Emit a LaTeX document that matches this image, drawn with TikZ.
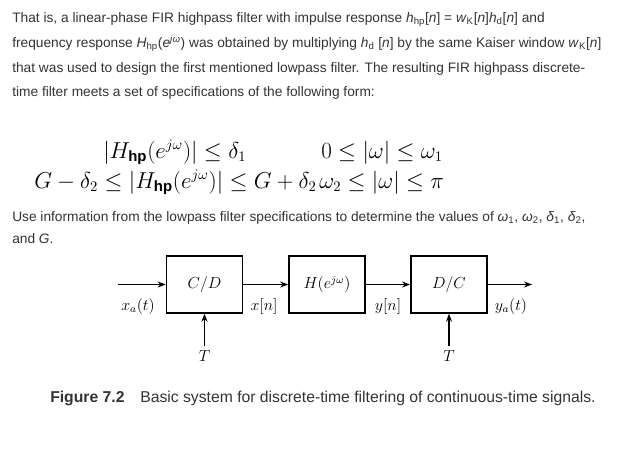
\documentclass[tikz,border=0pt]{standalone}
\usepackage{fontspec}
\usepackage{amsmath}
\setmainfont{Liberation Sans}
\usetikzlibrary{arrows.meta}
\definecolor{txt}{HTML}{333333}
\tikzset{
 para/.style={anchor=base west,inner sep=0,text=txt,font=\fontsize{10.3}{12}\selectfont},
 blk/.style={draw,line width=1.3pt,minimum width=57pt,minimum height=42.5pt,inner sep=0},
 sig/.style={line width=0.9pt,-{Stealth[length=6pt,width=4.5pt]}},
 lab/.style={inner sep=0,font=\fontsize{11.5}{13}\selectfont},
 eq/.style={anchor=base west,inner sep=0,font=\fontsize{16}{18}\selectfont}
}
\begin{document}
\begin{tikzpicture}[x=0.75pt,y=-0.75pt]
\useasboundingbox (0,0) rectangle (622,450);
\node[para] (l1) at (12,22) {That is, a linear-phase FIR highpass filter with impulse response \textit{h}\textsubscript{hp}[\textit{n}] = \textit{w}\textsubscript{K}[\textit{n}]\textit{h}\textsubscript{d}[\textit{n}] and};
\node[para] (l2) at (12,47) {frequency response \textit{H}\textsubscript{hp}(\textit{e}\textsuperscript{\textit{j}\textit{ω}}) was obtained by multiplying \textit{h}\textsubscript{d} [\textit{n}] by the same Kaiser window \textit{w}\textsubscript{K}[\textit{n}]};
\node[para] (l3) at (12,72) {that was used to design the first mentioned lowpass filter. The resulting FIR highpass discrete-};
\node[para] (l4) at (12,96) {time filter meets a set of specifications of the following form:};
\node[eq] (e1) at (103,158) {$|H_{\mathbf{hp}}(e^{j\omega})|\le\delta_1$};
\node[eq] (e2) at (321,158) {$0\le|\omega|\le\omega_1$};
\node[eq] (e3) at (34,188) {$G-\delta_2\le|H_{\mathbf{hp}}(e^{j\omega})|\le G+\delta_2$};
\node[eq] (e4) at (319,188) {$\omega_2\le|\omega|\le\pi$};
\node[para] (l5) at (12,221) {Use information from the lowpass filter specifications to determine the values of \textit{ω}\textsubscript{1}, \textit{ω}\textsubscript{2}, \textit{δ}\textsubscript{1}, \textit{δ}\textsubscript{2},};
\node[para] (l6) at (12,243) {and \textit{G}.};
\node[blk,lab] (cd) at (204.5,284.5) {$C/D$};
\node[blk,lab] (h) at (327,284.5) {$H(e^{j\omega})$};
\node[blk,lab] (dc) at (449,284.5) {$D/C$};
\coordinate (in) at (118,284.5);
\coordinate (out) at (532,284.5);
\coordinate (t1) at (204.5,346);
\coordinate (t2) at (449,346);
\draw[sig] (in) -- (cd);
\draw[sig] (cd) -- (h);
\draw[sig] (h) -- (dc);
\draw[sig] (dc) -- (out);
\draw[sig] (t1) -- (cd.south);
\draw[sig] (t2) -- (dc.south);
\node[lab] (xa) at (138,306) {$x_a(t)$};
\node[lab] (xn) at (264,306) {$x[n]$};
\node[lab] (yn) at (388,306) {$y[n]$};
\node[lab] (ya) at (511,306) {$y_a(t)$};
\node[lab,below=3pt] (T1) at (t1) {$T$};
\node[lab,below=3pt] (T2) at (t2) {$T$};
\node[anchor=base west,inner sep=0,text=txt] (cap) at (50,402) {\resizebox{409pt}{!}{\fontsize{10.5}{12}\selectfont\textbf{Figure 7.2}\quad Basic system for discrete-time filtering of continuous-time signals.}};
\end{tikzpicture}
\end{document}
